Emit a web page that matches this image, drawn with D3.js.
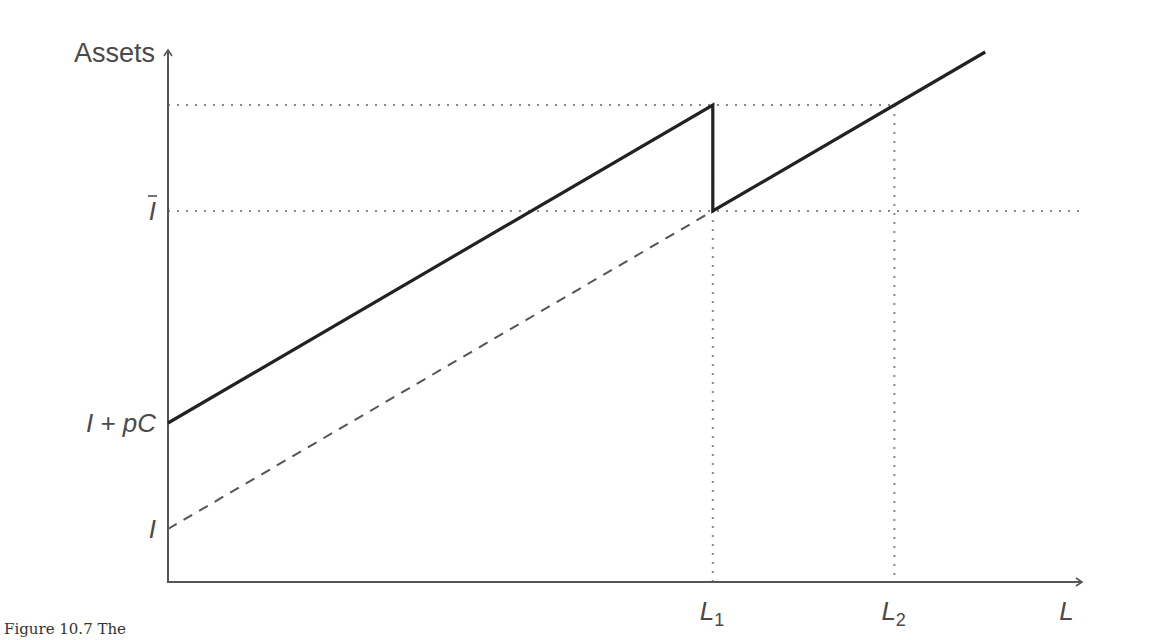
<!DOCTYPE html>
<html>
<head>
<meta charset="utf-8">
<script src="https://cdn.jsdelivr.net/npm/d3@7"></script>
<style>
  body { margin: 0; background: #fff; }
  svg { display: block; }
  text { font-family: 'Liberation Sans', Arial, sans-serif; fill: #4a4a4a; }
</style>
</head>
<body>
<svg width="1150" height="640"></svg>
<script>
// values in chart units (L on x, Assets on y)
const L1 = 60;
const L2 = 80;
const Lend = 90;
const I = 10;
const IpC = 30;
const Ibar = 70;
const Itop = 90;

const solidPath = [
  [0, IpC],
  [L1, Itop],
  [L1, Ibar],
  [Lend, 100]
];
const dashedPath = [
  [0, I],
  [L1, Ibar]
];

const svg = d3.select('svg');

const x = d3.scaleLinear().domain([0, 100]).range([168, 1076]);
const y = d3.scaleLinear().domain([0, 100]).range([582, 52]);

const line = d3
  .line()
  .x(function (d) {
    return x(d[0]);
  })
  .y(function (d) {
    return y(d[1]);
  });

// dotted guides
const dotted = [
  [[0, Itop], [L2, Itop]],
  [[0, Ibar], [100.4, Ibar]],
  [[L1, Ibar], [L1, 0]],
  [[L2, Itop], [L2, 0]]
];
svg
  .append('g')
  .selectAll('path')
  .data(dotted)
  .enter()
  .append('path')
  .attr('d', line)
  .attr('fill', 'none')
  .attr('stroke', '#888')
  .attr('stroke-width', 2)
  .attr('stroke-dasharray', '2,7');

// axes
const ax = svg.append('g').attr('stroke', '#555').attr('fill', 'none').attr('stroke-width', 2);
ax.append('line').attr('x1', x(0)).attr('y1', y(0) + 1).attr('x2', x(0)).attr('y2', 52);
ax.append('line').attr('x1', x(0) - 1).attr('y1', y(0)).attr('x2', 1082).attr('y2', y(0));
ax.append('path').attr('d', `M${x(0) - 4},56 L${x(0)},50 L${x(0) + 4},56`).attr('stroke-width', 1.6);
ax.append('path').attr('d', `M1076,${y(0) - 4} L1082,${y(0)} L1076,${y(0) + 4}`).attr('stroke-width', 1.6);

// dashed line
svg
  .append('path')
  .datum(dashedPath)
  .attr('d', line)
  .attr('fill', 'none')
  .attr('stroke', '#555')
  .attr('stroke-width', 2)
  .attr('stroke-dasharray', '10,8');

// solid line
svg
  .append('path')
  .datum(solidPath)
  .attr('d', line)
  .attr('fill', 'none')
  .attr('stroke', '#222')
  .attr('stroke-width', 3.2)
  .attr('stroke-linejoin', 'miter');

// labels
svg
  .append('text')
  .attr('x', 155)
  .attr('y', 62)
  .attr('text-anchor', 'end')
  .style('font-size', '27px')
  .text('Assets');

const yLabels = [
  { v: Ibar, t: 'I', bar: true },
  { v: IpC, t: 'I + pC' },
  { v: I, t: 'I' }
];
yLabels.forEach(function (d) {
  svg
    .append('text')
    .attr('x', 156)
    .attr('y', y(d.v) + 9)
    .attr('text-anchor', 'end')
    .style('font-size', '26px')
    .style('font-style', 'italic')
    .text(d.t);
  if (d.bar) {
    svg
      .append('line')
      .attr('x1', 148)
      .attr('x2', 157)
      .attr('y1', y(d.v) - 15)
      .attr('y2', y(d.v) - 15)
      .attr('stroke', '#444')
      .attr('stroke-width', 1.5);
  }
});

const xLabels = [
  { v: L1, t: 'L', sub: '1' },
  { v: L2, t: 'L', sub: '2' },
  { v: 99.6, t: 'L', sub: '' }
];
xLabels.forEach(function (d) {
  const t = svg
    .append('text')
    .attr('x', x(d.v) - 13)
    .attr('y', 620)
    .style('font-size', '26px');
  t.append('tspan').style('font-style', 'italic').text(d.t);
  if (d.sub) {
    t.append('tspan').attr('dy', 6).style('font-size', '18px').text(d.sub);
  }
});

// caption at the foot of the figure
svg
  .append('text')
  .attr('x', 4)
  .attr('y', 634)
  .style('font-family', "'DejaVu Serif', 'Liberation Serif', serif")
  .style('font-size', '15px')
  .style('fill', '#333')
  .text('Figure 10.7  The');
</script>
</body>
</html>
